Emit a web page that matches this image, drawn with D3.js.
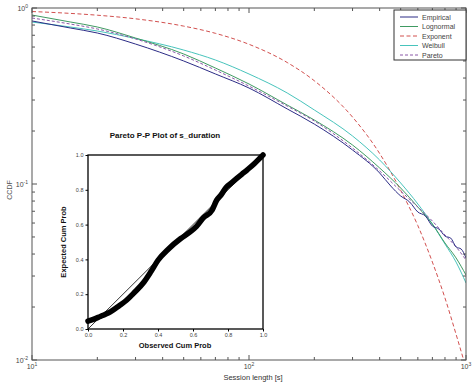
<!DOCTYPE html>
<html><head><meta charset="utf-8">
<script src="https://cdn.jsdelivr.net/npm/d3@7/dist/d3.min.js"></script>
<style>body{margin:0;background:#fff}svg{display:block;font-family:"Liberation Sans",Arial,sans-serif}</style>
</head><body><svg id="c" width="474" height="387"></svg>
<script>
// ---- data ----
const modelX = [10,15,20,30,50,70,100,150,200,300,400,500,600,700,800,900,1000];
const exponentY = [0.955,0.932,0.910,0.868,0.789,0.718,0.622,0.490,0.386,0.240,0.149,0.092,0.058,0.036,0.0225,0.0140,0.0090];
const lognormalY = [0.912,0.833,0.780,0.675,0.548,0.456,0.370,0.281,0.231,0.1665,0.1233,0.0949,0.0740,0.0592,0.0462,0.0380,0.0304];
const weibullY = [0.832,0.780,0.740,0.671,0.577,0.5065,0.4217,0.329,0.2634,0.1874,0.1369,0.1013,0.0770,0.0592,0.0456,0.0360,0.0274];
const paretoY = [0.877,0.811,0.760,0.667,0.534,0.444,0.360,0.277,0.228,0.160,0.1186,0.0912,0.0740,0.0616,0.0513,0.0439,0.0370];
const empiricalX = [10,15,20,30,50,70,100,150,200,300,400,450,500,550,600,650,700,750,800,850,900,950,1000];
const empiricalY = [0.844,0.770,0.721,0.624,0.500,0.422,0.351,0.267,0.219,0.156,0.1155,0.0974,0.0855,0.0790,0.0693,0.0658,0.0577,0.0555,0.0506,0.0493,0.0439,0.0427,0.0380];
const seriesNames = ["Empirical","Lognormal","Exponent","Weibull","Pareto"];
const xTickExps = [1,2,3];
const yTickExps = [0,-1,-2];
// P-P inset
const ppObserved = [0,0.03,0.07,0.10,0.13,0.18,0.22,0.26,0.32,0.36,0.40,0.46,0.53,0.58,0.62,0.66,0.71,0.735,0.76,0.79,0.82,0.85,0.88,0.91,0.95,0.99,1.0];
const ppExpected = [0.045,0.055,0.072,0.085,0.10,0.135,0.165,0.205,0.27,0.33,0.395,0.46,0.52,0.555,0.59,0.64,0.685,0.74,0.77,0.815,0.84,0.865,0.89,0.915,0.95,0.99,1.0];
const ppTicks = [0,0.2,0.4,0.6,0.8,1.0];

const svg = d3.select("#c");
const X0=32, X1=466, Y0=8, Y1=360;
const x = d3.scaleLog().domain([10,1000]).range([X0,X1]);
const y = d3.scaleLog().domain([0.01,1]).range([Y1,Y0]);

svg.append("defs").append("clipPath").attr("id","clip")
  .append("rect").attr("x",X0).attr("y",Y0).attr("width",X1-X0).attr("height",Y1-Y0);

const styles = {
  Empirical:{color:"#2c2c86",dash:null},
  Lognormal:{color:"#3f9a62",dash:null},
  Exponent:{color:"#d2504f",dash:"4,2.5"},
  Weibull:{color:"#48c4bc",dash:null},
  Pareto:{color:"#8a58a8",dash:"3,2"}
};
const data = {
  Exponent: modelX.map((v,i)=>[v,exponentY[i]]),
  Weibull: modelX.map((v,i)=>[v,weibullY[i]]),
  Lognormal: modelX.map((v,i)=>[v,lognormalY[i]]),
  Pareto: modelX.map((v,i)=>[v,paretoY[i]]),
  Empirical: empiricalX.map((v,i)=>[v,empiricalY[i]])
};
const line = d3.line().x(d=>x(d[0])).y(d=>y(d[1])).curve(d3.curveMonotoneX);
const g = svg.append("g").attr("clip-path","url(#clip)");
["Exponent","Weibull","Lognormal","Pareto","Empirical"].forEach(n=>{
  g.append("path").attr("d",line(data[n])).attr("fill","none")
   .attr("stroke",styles[n].color).attr("stroke-width",1)
   .attr("stroke-dasharray",styles[n].dash);
});

// axes frame
const axC="#555";
svg.append("rect").attr("x",X0).attr("y",Y0).attr("width",X1-X0).attr("height",Y1-Y0)
  .attr("fill","none").attr("stroke",axC).attr("stroke-width",1);

// ticks (inside, all four sides)
const xt = [];
for (let d=10; d<1000; d*=10) for (let k=1;k<10;k++) xt.push(d*k);
xt.push(1000);
xt.forEach(v=>{
  const major = Math.abs(Math.log10(v)%1)<1e-9;
  const L = major?5:3, px=x(v);
  svg.append("line").attr("x1",px).attr("x2",px).attr("y1",Y1).attr("y2",Y1-L).attr("stroke",axC);
  svg.append("line").attr("x1",px).attr("x2",px).attr("y1",Y0).attr("y2",Y0+L).attr("stroke",axC);
});
const yt = [];
for (let d=0.01; d<0.99; d*=10) for (let k=1;k<10;k++) yt.push(d*k);
yt.push(1);
yt.forEach(v=>{
  const lg=Math.log10(v); const major = Math.abs(lg-Math.round(lg))<1e-9;
  const L = major?5:3, py=y(v);
  svg.append("line").attr("x1",X0).attr("x2",X0+L).attr("y1",py).attr("y2",py).attr("stroke",axC);
  svg.append("line").attr("x1",X1).attr("x2",X1-L).attr("y1",py).attr("y2",py).attr("stroke",axC);
});
function powLabel(px,py,e,anchor){
  const t=svg.append("text").attr("x",px).attr("y",py).attr("text-anchor",anchor)
    .attr("font-size",7).attr("fill","#444");
  t.append("tspan").text("10");
  t.append("tspan").attr("dy",-3).attr("font-size",5).text(String(e));
}
yTickExps.forEach(e=>powLabel(X0-4,y(Math.pow(10,e))+2.5,e,"end"));
xTickExps.forEach(e=>powLabel(x(Math.pow(10,e)),369,e,"middle"));
svg.append("text").attr("x",253).attr("y",380).attr("text-anchor","middle")
  .attr("font-size",7.5).attr("fill","#333").text("Session length [s]");
svg.append("text").attr("transform","translate(12,190) rotate(-90)").attr("text-anchor","middle")
  .attr("font-size",7).attr("fill","#555").text("CCDF");

// legend
const LX=394, LY=10, LW=X1-LX, LH=50;
svg.append("rect").attr("x",LX).attr("y",LY).attr("width",LW).attr("height",LH)
  .attr("fill","#fff").attr("stroke","#333").attr("stroke-width",1);
seriesNames.forEach((n,i)=>{
  const yy = LY+7+i*9.5;
  svg.append("line").attr("x1",LX+6).attr("x2",LX+24).attr("y1",yy).attr("y2",yy)
    .attr("stroke",styles[n].color).attr("stroke-width",1).attr("stroke-dasharray",styles[n].dash);
  svg.append("text").attr("x",LX+28).attr("y",yy+2.5).attr("font-size",7).attr("fill","#444").text(n);
});

// ---- P-P inset ----
const IX0=88, IX1=263, IY0=155, IY1=329;
const px = d3.scaleLinear().domain([0,1]).range([IX0,IX1]);
const py = d3.scaleLinear().domain([0,1]).range([IY1,IY0]);
const ig = svg.append("g");
ig.append("rect").attr("x",IX0).attr("y",IY0).attr("width",IX1-IX0).attr("height",IY1-IY0)
  .attr("fill","#fff").attr("stroke","#000").attr("stroke-width",1.3);
ig.append("line").attr("x1",px(0)).attr("y1",py(0)).attr("x2",px(1)).attr("y2",py(1))
  .attr("stroke","#000").attr("stroke-width",0.8);
ig.append("path").attr("d",d3.line().x(d=>px(d[0])).y(d=>py(d[1])).curve(d3.curveMonotoneX)(ppObserved.map((v,i)=>[v,ppExpected[i]])))
  .attr("fill","none").attr("stroke","#000").attr("stroke-width",5.5).attr("stroke-linejoin","round").attr("stroke-linecap","round");
ig.append("g").attr("transform",`translate(0,${IY1})`)
  .call(d3.axisBottom(px).tickValues(ppTicks).tickFormat(d3.format(".1f")).tickSize(2.5).tickPadding(2))
  .call(a=>{a.select(".domain").remove();a.selectAll("text").attr("font-size",5.5).attr("fill","#444").attr("font-family","Liberation Sans, Arial");});
ig.append("g").attr("transform",`translate(${IX0},0)`)
  .call(d3.axisLeft(py).tickValues(ppTicks).tickFormat(d3.format(".1f")).tickSize(2.5).tickPadding(2))
  .call(a=>{a.select(".domain").remove();a.selectAll("text").attr("font-size",5.5).attr("fill","#444").attr("font-family","Liberation Sans, Arial");});
ig.append("text").attr("x",165).attr("y",138).attr("text-anchor","middle").attr("font-size",8)
  .attr("font-weight","bold").attr("fill","#111").text("Pareto P-P Plot of s_duration");
ig.append("text").attr("x",175).attr("y",348).attr("text-anchor","middle").attr("font-size",7.5)
  .attr("font-weight","bold").attr("fill","#111").text("Observed Cum Prob");
ig.append("text").attr("transform","translate(66,242) rotate(-90)").attr("text-anchor","middle").attr("font-size",7.5)
  .attr("font-weight","bold").attr("fill","#111").text("Expected Cum Prob");
</script></body></html>
